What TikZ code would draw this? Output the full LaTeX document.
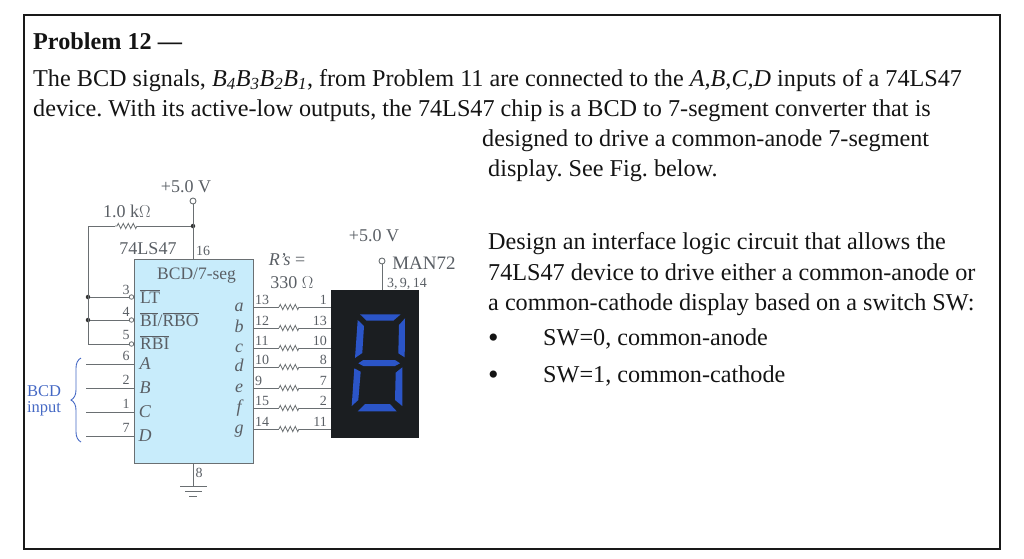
\documentclass[tikz,border=0pt]{standalone}
\usepackage{fontspec}
\setmainfont{Liberation Serif}
\usetikzlibrary{decorations.pathmorphing,decorations.pathreplacing}
\definecolor{chipblue}{HTML}{C8ECFB}
\definecolor{wiregray}{HTML}{6A6F72}
\definecolor{labelgray}{HTML}{5A5F65}
\definecolor{segblue}{HTML}{2B55C8}
\definecolor{bracketblue}{HTML}{4468C4}
\definecolor{dispblack}{HTML}{1B1E21}
\tikzset{
  wire/.style={draw=wiregray, line width=1pt},
  zigres/.style={wire, line width=0.8pt, decorate, decoration={zigzag, segment length=5pt, amplitude=2.6pt}},
  maintext/.style={anchor=base west, inner sep=0pt, font=\fontsize{24.2}{26}\selectfont, text=black!92},
  pinlabel/.style={anchor=base, inner sep=0pt, font=\fontsize{14}{15}\selectfont, text=labelgray},
  bigpin/.style={pinlabel, font=\fontsize{18}{19}\selectfont},
  chiptext/.style={anchor=base west, inner sep=0pt, font=\fontsize{17.5}{19}\selectfont, text=labelgray},
  chipital/.style={anchor=base, inner sep=0pt, font=\fontsize{18}{19}\selectfont\itshape, text=labelgray},
  bluetext/.style={inner sep=0pt, anchor=base, font=\fontsize{16.5}{17}\selectfont, text=bracketblue},
  dotnode/.style={circle, fill=black!80, inner sep=0pt, minimum size=4.5pt},
  termcirc/.style={circle, draw=wiregray, fill=white, line width=0.9pt, inner sep=0pt, minimum size=6pt},
  bubble/.style={circle, draw=wiregray, fill=white, line width=0.8pt, inner sep=0pt, minimum size=4.5pt},
  segment/.style={fill=segblue, draw=none},
}
\begin{document}
\frenchspacing
\begin{tikzpicture}[x=1pt, y=-1pt]
\useasboundingbox (0,0) rectangle (1024,558);
\node[draw=black!90, line width=2.2pt, minimum width=976pt, minimum height=534pt, inner sep=0pt, anchor=north west] (frame) at (23,14) {};
% problem text
\node[maintext] (title) at (33,49) {\bfseries Problem 12 ---};
\node[maintext] (line1) at (33,86) {The BCD signals, \textit{B}\textsubscript{\textit{4}}\textit{B}\textsubscript{\textit{3}}\textit{B}\textsubscript{\textit{2}}\textit{B}\textsubscript{\textit{1}}, from Problem 11 are connected to the \textit{A,B,C,D} inputs of a 74LS47};
\node[maintext] (line2) at (33,116) {device. With its active-low outputs, the 74LS47 chip is a BCD to 7-segment converter that is};
\node[maintext] (line3) at (482,146) {designed to drive a common-anode 7-segment};
\node[maintext] (line4) at (488,176) {display. See Fig. below.};
\node[maintext] (line5) at (488,249) {Design an interface logic circuit that allows the};
\node[maintext] (line6) at (488,280) {74LS47 device to drive either a common-anode or};
\node[maintext] (line7) at (488,310) {a common-cathode display based on a switch SW:};
\node[maintext, font=\fontsize{30}{30}\selectfont] (dot1) at (488,347) {•};
\node[maintext] (sw0) at (543,345) {SW=0, common-anode};
\node[maintext, font=\fontsize{30}{30}\selectfont] (dot2) at (488,384) {•};
\node[maintext] (sw1) at (543,382) {SW=1, common-cathode};
% chip
\node[draw=wiregray, fill=chipblue, line width=1.1pt, minimum width=119pt, minimum height=204pt, inner sep=0pt, anchor=north west] (chip) at (134,259) {};
\node[chiptext] (chipname) at (157,279) {BCD/7-seg};
\node[chiptext] (lt) at (140,303) {$\overline{\mbox{LT}}$};
\node[chiptext] (bi) at (140,326) {$\overline{\mbox{BI}}$/$\overline{\mbox{RBO}}$};
\node[chiptext] (rbi) at (140,349) {$\overline{\mbox{RBI}}$};
\node[bigpin] (partno) at (148,254) {74LS47};
% supply and pull-up
\node[termcirc] (vcc) at (193,201) {};
\node[bigpin] (vcctext) at (186,192) {+5.0 V};
\node[bigpin] (rtext) at (127,217) {1.0 k$\Omega$};
\node[dotnode] (top) at (193,226) {};
\coordinate (chiptop) at (193,259);
\coordinate (corner) at (88,226);
\coordinate (rbot) at (88,344);
\coordinate (pullL) at (115,226);
\coordinate (pullR) at (137,226);
\node[dotnode] (ltdot) at (88,297) {};
\node[dotnode] (bidot) at (88,320) {};
\node[bubble] (ltbub) at (131.5,297) {};
\node[bubble] (bibub) at (131.5,320) {};
\node[bubble] (rbibub) at (131.5,344) {};
\draw[wire] (vcc) -- (chiptop);
\draw[wire] (top) -- (pullR);
\draw[zigres] (pullR) -- (pullL);
\draw[wire] (pullL) -- (corner) -- (rbot) -- (rbibub);
\draw[wire] (ltdot) -- (ltbub);
\draw[wire] (bidot) -- (bibub);
\node[pinlabel] (p16) at (203,255) {16};
\node[pinlabel] (p3) at (126,294) {3};
\node[pinlabel] (p4) at (126,316) {4};
\node[pinlabel] (p5) at (126,339) {5};
% BCD inputs
\foreach \name/\y/\pin in {A/364/6, B/388/2, C/412/1, D/436/7} {
  \coordinate (in\name) at (86,\y);
  \coordinate (pin\name) at (134,\y);
  \draw[wire] (in\name) -- (pin\name);
  \node[pinlabel] (lab\pin) at (126,\y-4) {\pin};
  \node[chipital] (chip\name) at (145,\y+5) {\name};
}
\coordinate (braceT) at (81,442);
\coordinate (braceB) at (81,358);
\draw[draw=bracketblue, line width=0.9pt, decorate, decoration={brace, amplitude=10pt}] (braceT) -- (braceB);
\node[bluetext] (bcdtext) at (44,396) {BCD};
\node[bluetext] (inputtext) at (44,412) {input};
% ground
\coordinate (chipbot) at (193,463);
\coordinate (gnd) at (193,486);
\coordinate (gnd1L) at (180,486);
\coordinate (gnd1R) at (207,486);
\coordinate (gnd2L) at (185,491);
\coordinate (gnd2R) at (202,491);
\coordinate (gnd3L) at (189,496);
\coordinate (gnd3R) at (197,496);
\draw[wire] (chipbot) -- (gnd);
\draw[wire] (gnd1L) -- (gnd1R);
\draw[wire] (gnd2L) -- (gnd2R);
\draw[wire] (gnd3L) -- (gnd3R);
\node[pinlabel] (p8) at (199,477) {8};
% display
\node[fill=dispblack, minimum width=88pt, minimum height=148pt, inner sep=0pt, anchor=north west] (disp) at (331,290) {};
\node[termcirc] (dvcc) at (382,261) {};
\coordinate (disptop) at (382,290);
\draw[wire] (dvcc) -- (disptop);
\node[bigpin] (dvcctext) at (374,241) {+5.0 V};
\node[bigpin, font=\fontsize{19}{20}\selectfont] (man) at (424,269) {MAN72};
\node[pinlabel] (p3914) at (407,287) {3,\,9,\,14};
\node[chipital] (rs) at (287,265) {\textit{R's} \upshape =};
\node[bigpin] (r330) at (292,288) {330 $\Omega$};
% outputs
\foreach \name/\y/\ipin/\opin in {a/307/13/1, b/328/12/13, c/348/11/10, d/367/10/8, e/388/9/7, f/408/15/2, g/429/14/11} {
  \coordinate (out\name) at (253,\y);
  \coordinate (resL\name) at (279,\y);
  \coordinate (resR\name) at (299,\y);
  \coordinate (seg\name) at (331,\y);
  \draw[wire] (out\name) -- (resL\name);
  \draw[zigres] (resL\name) -- (resR\name);
  \draw[wire] (resR\name) -- (seg\name);
  \node[pinlabel, anchor=base west] (ipin\name) at (255,\y-3) {\ipin};
  \node[pinlabel, anchor=base east] (opin\name) at (327,\y-3) {\opin};
  \node[chipital] (chip\name) at (239,\y+4) {\name};
}
% segments
\fill[segment] (360,314.3) -- (400.7,314.3) -- (393.3,320.7) -- (366.7,320.7) -- cycle;
\fill[segment] (357.7,320) -- (364,326) -- (362.3,353) -- (355,358) -- cycle;
\fill[segment] (405,318.3) -- (404.7,357.3) -- (398.3,353.3) -- (399,325) -- cycle;
\fill[segment] (358.3,363.3) -- (363.3,360) -- (395,360) -- (400,363.3) -- (395,366) -- (363.3,366) -- cycle;
\fill[segment] (354.3,368.3) -- (360.7,371.7) -- (358.3,400) -- (351.7,406) -- cycle;
\fill[segment] (402.3,367.3) -- (402.3,406) -- (395,400) -- (395.7,372.7) -- cycle;
\fill[segment] (365,404) -- (390,404) -- (396.7,411.3) -- (357.7,411.3) -- cycle;
\end{tikzpicture}
\end{document}
